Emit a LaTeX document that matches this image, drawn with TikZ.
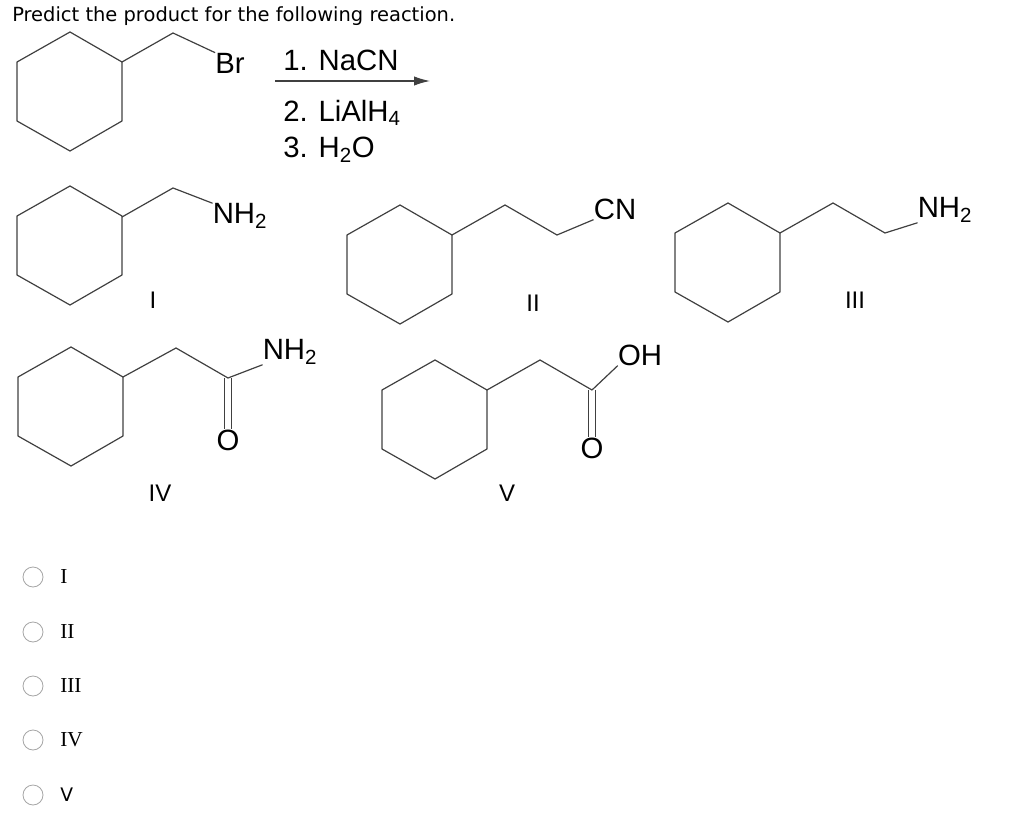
\documentclass[tikz,border=0pt]{standalone}
\usepackage{fontspec}
\setmainfont{Liberation Sans}
\newfontfamily\titlefont{DejaVu Sans}
\newfontfamily\serifx{Liberation Serif}
\usetikzlibrary{arrows.meta}
\newcommand\sbs[1]{\textsubscript{#1}}
\begin{document}
\begin{tikzpicture}[x=0.75pt,y=-0.75pt,
  bond/.style={draw=black!75,line width=0.9pt,line join=round},
  chem/.style={inner sep=0pt,font=\fontsize{22}{22}\selectfont},
  lab/.style={inner sep=0pt,font=\fontsize{18}{18}\selectfont},
  radio/.style={draw=black!35,fill=white,line width=0.6pt,circle,minimum size=15pt,inner sep=0pt},
  opt/.style={anchor=west,inner sep=0pt,font=\serifx\fontsize{16}{16}\selectfont}]
\useasboundingbox (0,0) rectangle (1024,827);
\newcommand\hexring[2]{\draw[bond] (#1-53,#2-30) -- (#1,#2-60) -- (#1+52,#2-30) -- (#1+52,#2+29) -- (#1,#2+59) -- (#1-53,#2+29) -- cycle;}
\node[anchor=west,inner sep=0pt,font=\titlefont\fontsize{14.6}{15}\selectfont] (title) at (12,16) {Predict the product for the following reaction.};
% reactant
\hexring{70}{92}
\coordinate (r1) at (122,62); \coordinate (r2) at (173,33);
\node[chem] (br) at (230,63) {Br};
\draw[bond] (r1) -- (r2) -- (br.north west);
\coordinate (a1) at (275,81); \coordinate (a2) at (430,81);
\draw[bond,-{Latex[length=12pt,width=7pt]}] (a1) -- (a2);
\node[chem,anchor=west] (s1) at (283,60) {1. NaCN};
\node[chem,anchor=west] (s2) at (283,113) {2. LiAlH\sbs{4}};
\node[chem,anchor=west] (s3) at (283,150) {3. H\sbs{2}O};
% I
\hexring{70}{246}
\coordinate (i1) at (122,217); \coordinate (i2) at (173,188);
\node[chem] (nh1) at (240,216) {NH\sbs{2}};
\draw[bond] (i1) -- (i2) -- (nh1.north west);
\node[lab] (L1) at (153,300) {I};
% II
\hexring{400}{265}
\coordinate (ii1) at (452,235); \coordinate (ii2) at (505,205); \coordinate (ii3) at (557,235);
\node[chem] (cn) at (615,209) {CN};
\draw[bond] (ii1) -- (ii2) -- (ii3) -- (cn.south west);
\node[lab] (L2) at (533,303) {II};
% III
\hexring{728}{263}
\coordinate (iii1) at (780,233); \coordinate (iii2) at (833,203); \coordinate (iii3) at (885,233);
\node[chem] (nh3) at (945,210) {NH\sbs{2}};
\draw[bond] (iii1) -- (iii2) -- (iii3) -- (nh3.south west);
\node[lab] (L3) at (855,300) {III};
% IV
\hexring{71}{407}
\coordinate (iv1) at (123,377); \coordinate (iv2) at (176,348); \coordinate (iv3) at (228,378);
\node[chem] (nh4) at (290,352) {NH\sbs{2}};
\node[chem] (o4) at (228,440) {O};
\draw[bond] (iv1) -- (iv2) -- (iv3) -- (nh4.south west);
\draw[bond] ([xshift=-2.5]iv3) -- ([xshift=-2.5]o4.north);
\draw[bond] ([xshift=2.5]iv3) -- ([xshift=2.5]o4.north);
\node[lab] (L4) at (160,493) {IV};
% V
\hexring{435}{420}
\coordinate (v1) at (487,390); \coordinate (v2) at (540,360); \coordinate (v3) at (592,390);
\node[chem] (oh) at (640,355) {OH};
\node[chem] (o5) at (592,448) {O};
\draw[bond] (v1) -- (v2) -- (v3) -- (oh.south west);
\draw[bond] ([xshift=-2.5]v3) -- ([xshift=-2.5]o5.north);
\draw[bond] ([xshift=2.5]v3) -- ([xshift=2.5]o5.north);
\node[lab] (L5) at (507,493) {V};
% options
\foreach \y/\t/\n in {577/I/a,632/II/b,686/III/c,740/IV/d} {
  \node[radio] (rb\n) at (33,\y) {};
  \node[opt] (ot\n) at (60,\y) {\t};
}
\node[radio] (rbe) at (33,795) {};
\node[opt,font=\titlefont\fontsize{14}{14}\selectfont] (ote) at (60,795) {V};
\end{tikzpicture}
\end{document}
